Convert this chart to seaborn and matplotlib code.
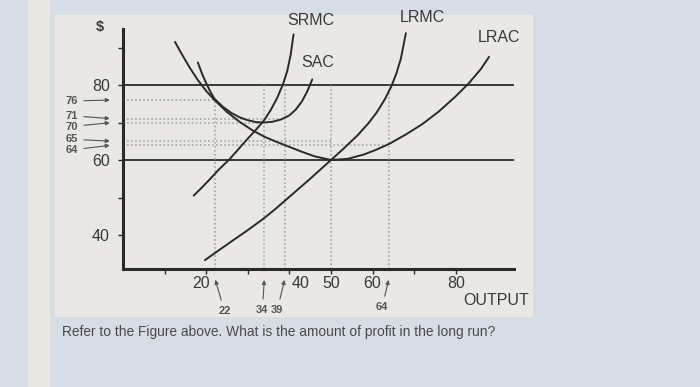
import matplotlib
matplotlib.use("Agg")
import matplotlib.pyplot as plt
from matplotlib.patches import Rectangle
from matplotlib.transforms import ScaledTranslation
import seaborn as sns

# curves (output, $)
lrac_q = [12.5, 14, 16, 18, 20, 22, 25, 28, 31, 34, 37, 40, 43, 46, 50,
          54, 58, 61, 64, 68, 72, 76, 80, 83, 86, 88]
lrac_c = [91.5, 88.5, 84.7, 81.3, 78.4, 76, 72.8, 70.2, 68, 66.2, 64.8, 63.5, 62.2, 61, 60,
          60.3, 61.5, 62.8, 64.3, 66.8, 69.6, 73, 77, 80.3, 84.2, 87.5]
sac_q = [18, 19, 20, 21, 22, 24, 26, 28, 30, 32, 34, 36, 38, 40, 41.5, 43, 44.3, 45.5]
sac_c = [86, 83, 80.5, 78.2, 76.3, 74.2, 72.6, 71.4, 70.6, 70.1, 70, 70.2, 70.8, 71.9, 73.4, 75.6, 78.3, 81.5]
srmc_q = [17, 19, 21, 23, 25.7, 28, 30, 32, 34, 35.5, 37, 38.5, 39.5, 40.3, 41]
srmc_c = [50.5, 52.7, 55, 57.4, 60.3, 63.2, 65.7, 68.1, 70.7, 73.3, 76.4, 80.3, 83.8, 88, 93.5]
lrmc_q = [19.7, 23, 27, 30, 33.7, 36.5, 39.4, 42, 45, 48, 50, 53, 56.5, 59, 61, 63, 64.5, 65.7, 66.8, 68]
lrmc_c = [33.3, 35.9, 39, 41.3, 44.3, 46.8, 49.6, 52.1, 55, 58, 60, 63, 66.7, 69.8, 72.7, 76.3, 79.6, 83, 87, 93.8]

price_lines = [80, 60]
h_dot_vals = [76, 71, 70, 65, 64]
h_dot_ends = [22, 39, 34, 50, 64]
v_dot_vals = [22, 34, 39, 50, 64]
v_dot_tops = [76, 80, 80, 80, 80]
bottom_marks = [22, 34, 39, 64]

xtick_vals = [10, 20, 30, 40, 50, 60, 70, 80]
xtick_labels = ["", "20", "", "40", "50", "60", "", "80"]
ytick_vals = [40, 50, 60, 70, 80, 90]
ytick_labels = ["40", "", "60", "", "80", ""]

sns.set_style("ticks")
plt.rcParams["font.family"] = ["Liberation Sans", "DejaVu Sans"]

ink = "#2a2a2a"
txt = "#3a3a3a"

fig = plt.figure(figsize=(7, 3.87), dpi=100, facecolor="#d6dde4")
# photo background: off-white strip and the card
fig.patches.append(Rectangle((28 / 700, 0), 22 / 700, 1, transform=fig.transFigure,
                             facecolor="#ebe8e4", edgecolor="none", zorder=-2))
fig.patches.append(Rectangle((55 / 700, 70 / 387), 478 / 700, 302 / 387, transform=fig.transFigure,
                             facecolor="#eae8e5", edgecolor="none", zorder=-1))

ax = fig.add_axes([123 / 700, 118.25 / 387, 391 / 700, 240 / 387])
ax.set_facecolor("none")
ax.set_xlim(0, 94)
ax.set_ylim(31, 95)

for p in price_lines:
    ax.axhline(p, color=ink, lw=1.3)

ax.hlines(h_dot_vals, 0, h_dot_ends, colors="#9a9a9a", linestyles=":", lw=1.1)
ax.vlines(v_dot_vals, 31, v_dot_tops, colors="#9a9a9a", linestyles=":", lw=1.1)

for q, c in [(lrac_q, lrac_c), (sac_q, sac_c), (srmc_q, srmc_c), (lrmc_q, lrmc_c)]:
    sns.lineplot(x=q, y=c, sort=False, color=ink, lw=1.4, ax=ax)

sns.despine(ax=ax)
for side in ["left", "bottom"]:
    ax.spines[side].set_linewidth(2.2)
    ax.spines[side].set_color(ink)

ax.set_xticks(xtick_vals, xtick_labels)
ax.set_yticks(ytick_vals, ytick_labels)
ax.tick_params(axis="both", length=3.6, width=1, color=ink, labelsize=11.5, labelcolor=txt)
ax.tick_params(axis="x", pad=1.5)
ax.tick_params(axis="y", pad=6)
for lab in ax.get_xticklabels():
    if lab.get_text() == "40":
        lab.set_transform(lab.get_transform() + ScaledTranslation(8 / 72, 0, fig.dpi_scale_trans))
    if lab.get_text() == "20":
        lab.set_transform(lab.get_transform() + ScaledTranslation(-4 / 72, 0, fig.dpi_scale_trans))

# curve names
ax.text(45.2, 97.3, "SRMC", fontsize=11.5, color=txt, ha="center", va="center")
ax.text(71.9, 98.1, "LRMC", fontsize=11.5, color=txt, ha="center", va="center")
ax.text(90.4, 92.8, "LRAC", fontsize=11.5, color=txt, ha="center", va="center")
ax.text(46.9, 86.1, "SAC", fontsize=11.5, color=txt, ha="center", va="center")
ax.text(89.6, 22.6, "OUTPUT", fontsize=11.5, color=txt, ha="center", va="center")
ax.text(-5.5, 95.5, "$", fontsize=10.5, color=txt, ha="center", va="center", fontweight="bold")

# value pointers on the price axis
left_dy = [-1, 3, -4, 2, -5]
for v, dy in zip(h_dot_vals, left_dy):
    ax.annotate(str(v), xy=(-2.5, v), xytext=(-41, dy), textcoords="offset pixels",
                fontsize=8, fontweight="bold", color="#555555", ha="center", va="center",
                annotation_clip=False,
                arrowprops=dict(arrowstyle="-|>", color="#555555", lw=0.8, mutation_scale=6))

# value pointers on the output axis
bottom_off = [(10, -34), (-2, -33), (-8, -33), (-7, -30)]
for v, off in zip(bottom_marks, bottom_off):
    ax.annotate(str(v), xy=(v, -0.035), xycoords=("data", "axes fraction"),
                xytext=off, textcoords="offset pixels",
                fontsize=8, fontweight="bold", color="#555555", ha="center", va="center",
                annotation_clip=False,
                arrowprops=dict(arrowstyle="-|>", color="#555555", lw=0.8, mutation_scale=6))

fig.text(62 / 700, 1 - 332 / 387, "Refer to the Figure above. What is the amount of profit in the long run?",
         fontsize=9.9, color="#4a4a4a", ha="left", va="center")

fig.savefig("out.png", dpi=100, facecolor=fig.get_facecolor())
